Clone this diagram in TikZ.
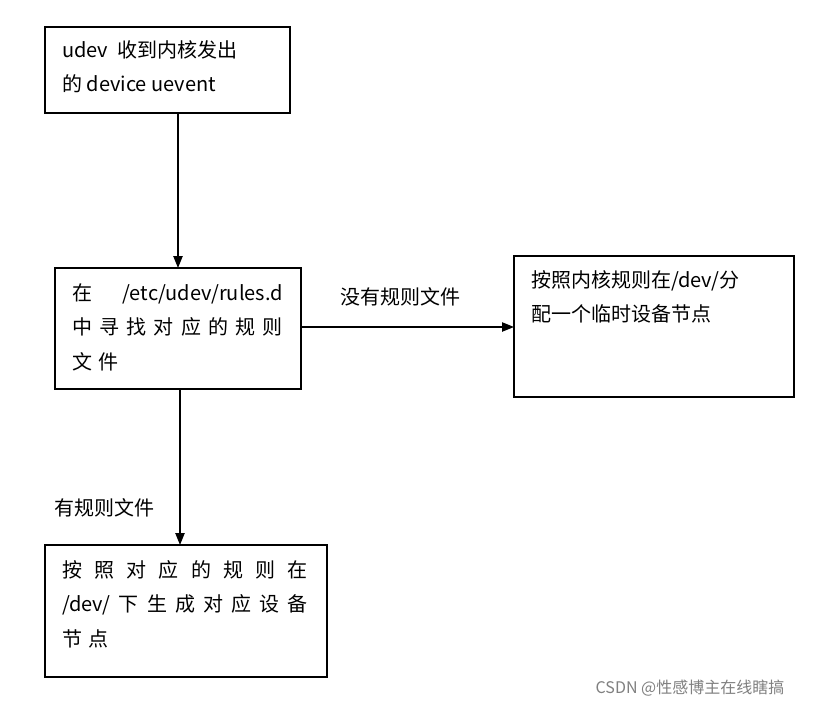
\documentclass[tikz,border=0pt]{standalone}
\usepackage{fontspec}
\setmainfont{Noto Sans CJK SC}
\usetikzlibrary{arrows.meta}
\newcommand{\jl}[2]{\makebox[#1][s]{#2}}
\newcommand{\hf}{\hfill}
\begin{document}
\begin{tikzpicture}[x=0.75pt,y=-0.75pt,
  box/.style={draw,line width=1pt},
  txt/.style={anchor=north west,align=left,font=\fontsize{15}{26}\selectfont,inner sep=0pt},
  arr/.style={-{Triangle[length=9pt,width=7pt]},line width=1pt},
  lbl/.style={font=\fontsize{15}{17}\selectfont,inner sep=0pt}]
\useasboundingbox (0,0) rectangle (819,707);
\fill[white] (0,0) rectangle (819,707);
\draw[box] (45,27) rectangle (290,113);
\draw[box] (55,268) rectangle (301,389);
\draw[box] (514,256) rectangle (794,397);
\draw[box] (45,545) rectangle (327,677);
\node[txt] (t1) at (62,40) {udev\ \ 收到内核发出\\的 device uevent};
\node[txt] (t2) at (72,283) {\jl{158pt}{在\hf{}/etc/udev/rules.d}\\\jl{158pt}{中\hf{}寻\hf{}找\hf{}对\hf{}应\hf{}的\hf{}规\hf{}则}\\文\hspace{5pt}件};
\node[txt] (t3) at (531,270) {按照内核规则在/dev/分\\配一个临时设备节点};
\node[txt] (t4) at (62,560) {\jl{184pt}{按\hf{}照\hf{}对\hf{}应\hf{}的\hf{}规\hf{}则\hf{}在}\\\jl{184pt}{/dev/\hf{}下\hf{}生\hf{}成\hf{}对\hf{}应\hf{}设\hf{}备}\\节\hspace{5pt}点};
\coordinate (a1) at (178,113); \coordinate (b1) at (178,268);
\coordinate (a2) at (301,327); \coordinate (b2) at (514,327);
\coordinate (a3) at (180,389); \coordinate (b3) at (180,545);
\draw[arr] (a1) -- (b1);
\draw[arr] (a2) -- (b2);
\draw[arr] (a3) -- (b3);
\node[lbl] (l2) at (400,297) {没有规则文件};
\node[lbl] (l3) at (105,508) {有规则文件};
\node[font=\fontsize{12}{14}\selectfont,text=gray,inner sep=0pt] (wm) at (690,688) {CSDN @性感博主在线瞎搞};
\end{tikzpicture}
\end{document}
